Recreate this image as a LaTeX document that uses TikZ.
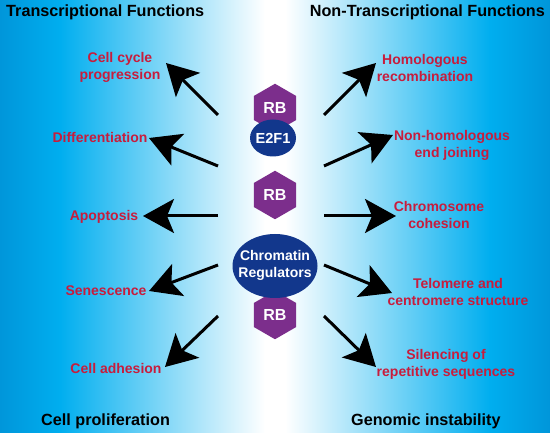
\documentclass[tikz,border=0pt]{standalone}
\usepackage{fontspec}
\setmainfont{Liberation Sans}
\usetikzlibrary{shapes.geometric,arrows.meta}
\definecolor{bgedge}{RGB}{0,150,218}
\definecolor{bgcyan}{RGB}{0,174,239}
\definecolor{lblred}{RGB}{200,28,60}
\definecolor{navy}{RGB}{18,55,140}
\definecolor{rbpurple}{RGB}{124,46,140}
\pgfdeclarehorizontalshading{bgshade}{100bp}{color(0bp)=(bgedge); color(25bp)=(bgedge); color(30.45bp)=(bgcyan); color(49.1bp)=(white); color(50.9bp)=(white); color(69.55bp)=(bgcyan); color(75bp)=(bgedge); color(100bp)=(bgedge)}
\tikzset{
  title/.style={font=\bfseries\fontsize{16.2}{19}\selectfont, inner sep=0pt, text=black},
  lbl/.style={font=\bfseries\fontsize{14}{17}\selectfont, text=lblred, align=center, inner sep=0pt},
  rbhex/.style={regular polygon, regular polygon sides=6, regular polygon rotate=30, minimum size=48.5pt, inner sep=0pt, fill=rbpurple, text=white, font=\bfseries\fontsize{16}{19}\selectfont},
  prot/.style={ellipse, fill=navy, inner sep=0pt},
  wtext/.style={text=white, font=\bfseries\fontsize{14}{17}\selectfont, align=center, inner sep=0pt},
  arr/.style={line width=3pt, -{Stealth[length=31pt,width=34pt,inset=7pt]}}
}
\begin{document}
\begin{tikzpicture}[x=1pt,y=-1pt]
\useasboundingbox (0,0) rectangle (550,433);
\shade[shading=bgshade] (0,0) rectangle (550,433);

% titles
\node[title, anchor=base west] (tleft) at (6,16.5) {Transcriptional Functions};
\node[title, anchor=base east] (tright) at (545,16.5) {Non-Transcriptional Functions};
\node[title, anchor=base west] (bleft) at (41,425) {Cell proliferation};
\node[title, anchor=base west] (bright) at (351,425) {Genomic instability};

% central proteins
\node[rbhex] (rb1) at (275,108) {RB};
\node[prot, minimum width=46pt, minimum height=37pt] (e2f1) at (273,138) {};
\node[wtext, font=\bfseries\fontsize{14.6}{17}\selectfont] (e2f1t) at (e2f1) {E2F1};
\node[rbhex] (rb2) at (275,195) {RB};
\node[rbhex] (rb3) at (275,315) {RB};
\node[prot, minimum width=85pt, minimum height=64pt] (chrom) at (275,266) {};
\node[wtext] (chromt) at (275,265) {Chromatin\\Regulators};

% left labels
\node[lbl] (cc) at (120,67.5) {Cell cycle\\progression};
\node[lbl] (diff) at (100,137) {Differentiation};
\node[lbl] (apop) at (104,217) {Apoptosis};
\node[lbl] (sen) at (106,291) {Senescence};
\node[lbl] (adh) at (116,368) {Cell adhesion};
% right labels
\node[lbl] (hr) at (425,67.5) {Homologous\\recombination};
\node[lbl] (nhej) at (452,145.5) {Non-homologous\\end joining};
\node[lbl] (coh) at (439,215) {Chromosome\\cohesion};
\node[lbl] (tel) at (458,291.5) {Telomere and\\centromere structure};
\node[lbl] (sil) at (446,364) {Silencing of\\repetitive sequences};

% arrow endpoints
\coordinate (l1a) at (218,115); \coordinate (l1b) at (166,63);
\coordinate (l2a) at (218,166); \coordinate (l2b) at (149,138);
\coordinate (l3a) at (218,216); \coordinate (l3b) at (143,216);
\coordinate (l4a) at (218,265); \coordinate (l4b) at (149,291);
\coordinate (l5a) at (218,316); \coordinate (l5b) at (165,367);
\coordinate (r1a) at (324,115); \coordinate (r1b) at (376,63);
\coordinate (r2a) at (324,166); \coordinate (r2b) at (393,135);
\coordinate (r3a) at (324,216); \coordinate (r3b) at (396,216);
\coordinate (r4a) at (324,265); \coordinate (r4b) at (392,293);
\coordinate (r5a) at (324,316); \coordinate (r5b) at (376,367);

\foreach \s in {l1,l2,l3,l4,l5,r1,r2,r3,r4,r5}
  \draw[arr] (\s a) -- (\s b);
\end{tikzpicture}
\end{document}
